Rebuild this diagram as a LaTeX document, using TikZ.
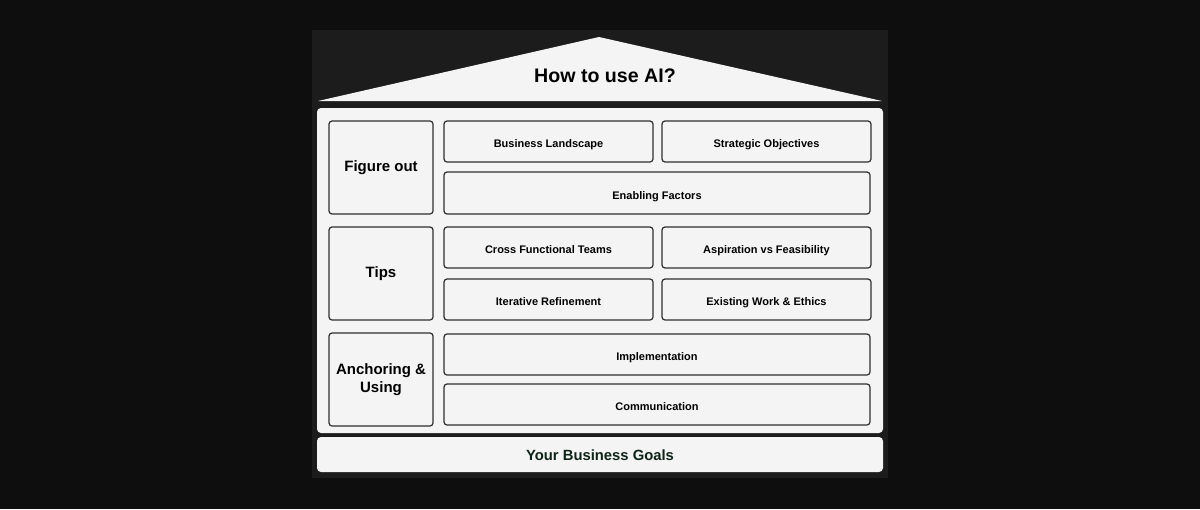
\documentclass[tikz,border=0pt]{standalone}
\usepackage{fontspec}
\setmainfont{Liberation Sans}
\usetikzlibrary{positioning}

\definecolor{pagebg}{HTML}{0E0E0E}
\definecolor{panelbg}{HTML}{1C1C1C}
\definecolor{paper}{HTML}{F4F4F4}
\definecolor{edge}{HTML}{2E2E2E}
\definecolor{goalink}{HTML}{0F2418}

\begin{document}
\begin{tikzpicture}[
    x=0.5pt, y=-0.5pt,
    node distance=5pt and 4.5pt,
    cell/.style={draw=edge, fill=paper, line width=0.6pt, rounded corners=1.5pt,
        outer sep=0pt, inner sep=1pt, align=center, text=black},
    half/.style={cell, minimum width=104.5pt, minimum height=20.5pt,
        text height=1.6ex, text depth=0.4ex,
        font=\fontsize{5.5}{6.5}\selectfont\bfseries},
    wide/.style={cell, minimum width=213pt, minimum height=21pt,
        text height=1.6ex, text depth=0.4ex,
        font=\fontsize{5.5}{6.5}\selectfont\bfseries},
    side/.style={cell, minimum width=52pt, minimum height=46.5pt,
        font=\fontsize{7.5}{9}\selectfont\bfseries}
]
    % backdrop
    \fill[pagebg] (0,0) rectangle (1200,509);
    \fill[panelbg] (312,30) rectangle (888,478);

    % roof
    \fill[paper] (318,101) -- (599,37) -- (882,101) -- cycle;
    \node[font=\fontsize{9.8}{12}\selectfont\bfseries] (title) at (605,76) {How to use AI?};

    % house body and floor
    \fill[paper, rounded corners=2pt] (317,108) rectangle (883,433);
    \fill[paper, rounded corners=2pt] (317,437) rectangle (883,472);
    \node[font=\fontsize{7.4}{9}\selectfont\bfseries, text=goalink] (goals) at (600,455) {Your Business Goals};

    % figure out
    \node[side, anchor=north west] (figure) at (329,121) {Figure out};
    \node[half, anchor=north west] (landscape) at (444,121) {Business Landscape};
    \node[half, right=of landscape] (objectives) {Strategic Objectives};
    \node[wide, below=of landscape.south west, anchor=north west] (enabling) {Enabling Factors};

    % tips
    \node[side, anchor=north west] (tips) at (329,227) {Tips};
    \node[half, anchor=north west] (teams) at (444,227) {Cross Functional Teams};
    \node[half, right=of teams] (aspiration) {Aspiration vs Feasibility};
    \node[half, below=5.5pt of teams] (refinement) {Iterative Refinement};
    \node[half, right=of refinement] (ethics) {Existing Work \& Ethics};

    % anchoring
    \node[side, anchor=north west] (anchoring) at (329,333) {Anchoring \&\\Using};
    \node[wide, minimum height=20.5pt, anchor=north west] (implementation) at (444,334) {Implementation};
    \node[wide, minimum height=20.5pt, below=4.5pt of implementation] (communication) {Communication};
\end{tikzpicture}
\end{document}
